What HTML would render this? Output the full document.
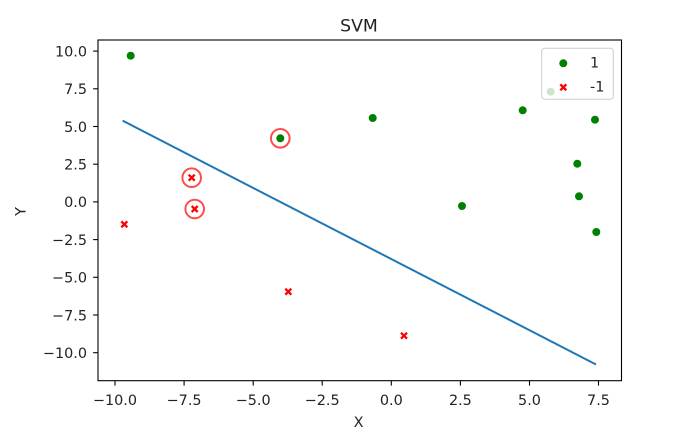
<!DOCTYPE html>
<html><head><meta charset="utf-8"><style>
html,body{margin:0;padding:0;background:#fff;}
svg{display:block;}
text{font-family:"DejaVu Sans","Liberation Sans",sans-serif;fill:#222;}
</style></head><body>
<svg width="692" height="434" viewBox="0 0 692 434" xmlns="http://www.w3.org/2000/svg">
<rect width="692" height="434" fill="#fff"/>
<text x="359" y="31.5" font-size="17.3" text-anchor="middle">SVM</text>
<!-- decision line -->
<line x1="122.7" y1="120.7" x2="596" y2="364.5" stroke="#1f77b4" stroke-width="2"/>
<!-- green points -->
<g fill="#008000" stroke="#fff" stroke-width="0.6">
<circle cx="130.7" cy="55.7" r="4.3"/>
<circle cx="280.3" cy="138.3" r="4.3"/>
<circle cx="372.7" cy="118" r="4.3"/>
<circle cx="522.7" cy="110.3" r="4.3"/>
<circle cx="595" cy="119.7" r="4.3"/>
<circle cx="577.3" cy="163.7" r="4.3"/>
<circle cx="579" cy="196.3" r="4.3"/>
<circle cx="596.3" cy="232" r="4.3"/>
<circle cx="462" cy="206" r="4.3"/>
<circle cx="550.7" cy="91.7" r="4.3"/>
</g>
<!-- red x points -->
<g stroke="#ff0000" stroke-width="2.3" stroke-linecap="butt">
<path d="M121.3 221.3 L127.3 227.3 M127.3 221.3 L121.3 227.3"/>
<path d="M188.7 174.7 L194.7 180.7 M194.7 174.7 L188.7 180.7"/>
<path d="M191.7 206 L197.7 212 M197.7 206 L191.7 212"/>
<path d="M285.3 288.7 L291.3 294.7 M291.3 288.7 L285.3 294.7"/>
<path d="M401 332.7 L407 338.7 M407 332.7 L401 338.7"/>
</g>
<!-- support vector circles -->
<g fill="none" stroke="#ff0000" stroke-opacity="0.7" stroke-width="2">
<circle cx="280.3" cy="138.3" r="9.3"/>
<circle cx="191.7" cy="177.7" r="9.3"/>
<circle cx="194.7" cy="209" r="9.3"/>
</g>
<!-- frame -->
<rect x="98" y="40" width="523.5" height="340.7" fill="none" stroke="#000" stroke-width="1.1"/>
<!-- x ticks -->
<g stroke="#000" stroke-width="1.1">
<line x1="115" y1="380.7" x2="115" y2="385.6"/>
<line x1="184.1" y1="380.7" x2="184.1" y2="385.6"/>
<line x1="253.2" y1="380.7" x2="253.2" y2="385.6"/>
<line x1="322.2" y1="380.7" x2="322.2" y2="385.6"/>
<line x1="391.3" y1="380.7" x2="391.3" y2="385.6"/>
<line x1="460.4" y1="380.7" x2="460.4" y2="385.6"/>
<line x1="529.5" y1="380.7" x2="529.5" y2="385.6"/>
<line x1="598.5" y1="380.7" x2="598.5" y2="385.6"/>
</g>
<g font-size="14.4" text-anchor="middle">
<text x="115" y="405">−10.0</text>
<text x="184.1" y="405">−7.5</text>
<text x="253.2" y="405">−5.0</text>
<text x="322.2" y="405">−2.5</text>
<text x="391.3" y="405">0.0</text>
<text x="460.4" y="405">2.5</text>
<text x="529.5" y="405">5.0</text>
<text x="598.5" y="405">7.5</text>
</g>
<!-- y ticks -->
<g stroke="#000" stroke-width="1.1">
<line x1="93.1" y1="51.1" x2="98" y2="51.1"/>
<line x1="93.1" y1="88.8" x2="98" y2="88.8"/>
<line x1="93.1" y1="126.5" x2="98" y2="126.5"/>
<line x1="93.1" y1="164.2" x2="98" y2="164.2"/>
<line x1="93.1" y1="201.9" x2="98" y2="201.9"/>
<line x1="93.1" y1="239.6" x2="98" y2="239.6"/>
<line x1="93.1" y1="277.3" x2="98" y2="277.3"/>
<line x1="93.1" y1="315" x2="98" y2="315"/>
<line x1="93.1" y1="352.7" x2="98" y2="352.7"/>
</g>
<g font-size="14.4" text-anchor="end">
<text x="87" y="56.4">10.0</text>
<text x="87" y="94.1">7.5</text>
<text x="87" y="131.8">5.0</text>
<text x="87" y="169.5">2.5</text>
<text x="87" y="207.2">0.0</text>
<text x="87" y="244.9">−2.5</text>
<text x="87" y="282.6">−5.0</text>
<text x="87" y="320.3">−7.5</text>
<text x="87" y="358">−10.0</text>
</g>
<text x="358.5" y="427" font-size="14.4" text-anchor="middle">X</text>
<text transform="translate(25.5,211.5) rotate(-90)" font-size="14.4" text-anchor="middle">Y</text>
<!-- legend -->
<rect x="541.7" y="48.3" width="71.6" height="51" rx="3" ry="3" fill="#fff" fill-opacity="0.8" stroke="#ccc" stroke-width="1"/>
<circle cx="563.3" cy="63.3" r="4.3" fill="#008000" stroke="#fff" stroke-width="0.6"/>
<path d="M560.3 84.3 L566.3 90.3 M566.3 84.3 L560.3 90.3" stroke="#ff0000" stroke-width="2.3"/>
<text x="590" y="67.7" font-size="14.4">1</text>
<text x="590" y="91.7" font-size="14.4">-1</text>
</svg>
</body></html>
